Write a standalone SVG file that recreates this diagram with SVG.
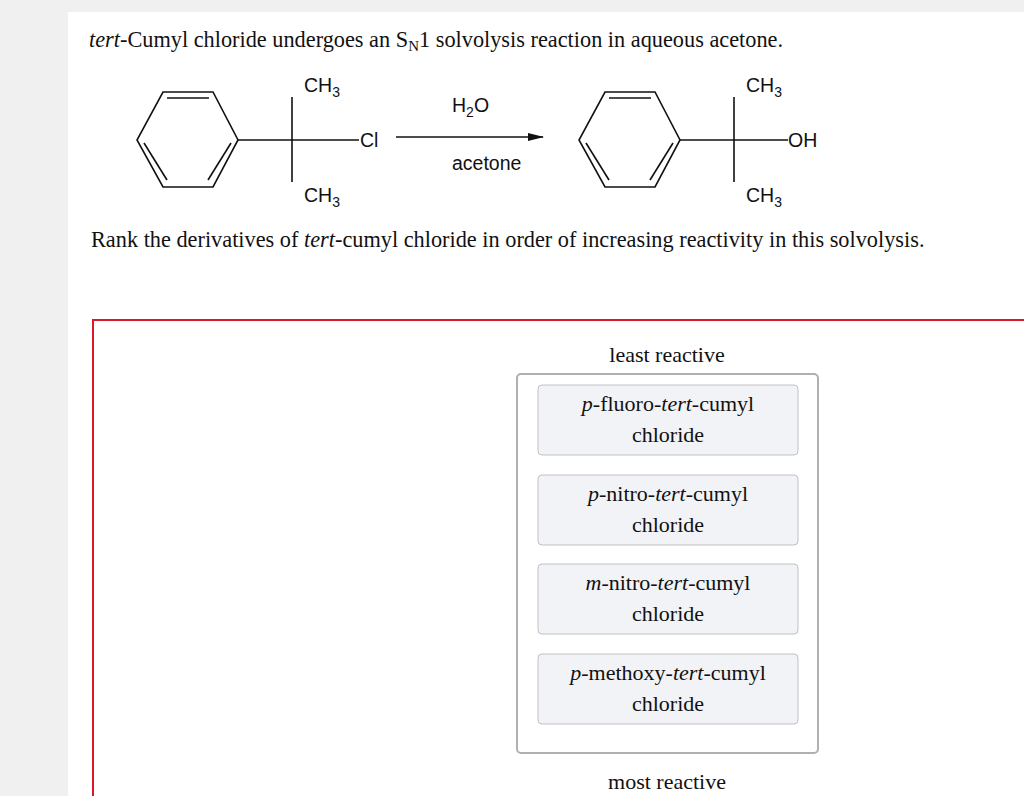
<svg xmlns="http://www.w3.org/2000/svg" width="1024" height="796" viewBox="0 0 1024 796">
<style>
.s{font-family:"Liberation Serif",serif;font-size:22.3px;fill:#111}
.a{font-family:"Liberation Sans",sans-serif;font-size:19.5px;fill:#111}
.b{stroke:#111;stroke-width:1.6;fill:none}
.card{fill:#f2f3f6;stroke:#bfc2c6;stroke-width:1}
.c{font-family:"Liberation Serif",serif;font-size:22px;fill:#111;text-anchor:middle}
</style>
<defs>
<g id="mol">
<polygon class="b" points="163,92 213,92 238,140 213,187 163,187 137,140"/>
<line class="b" x1="167" y1="98" x2="209" y2="98"/>
<line class="b" x1="144" y1="143" x2="167" y2="180"/>
<line class="b" x1="231" y1="143" x2="208" y2="180"/>
<line class="b" x1="238" y1="140" x2="292" y2="140"/>
<line class="b" x1="292" y1="97" x2="292" y2="182"/>
<text class="a" x="304" y="92">CH<tspan font-size="14" dy="5">3</tspan></text>
<text class="a" x="304" y="202">CH<tspan font-size="14" dy="5">3</tspan></text>
</g>
<marker id="ar" markerWidth="16" markerHeight="8" refX="15" refY="4" orient="auto" markerUnits="userSpaceOnUse"><path d="M0,0 L16,4 L0,8 Z" fill="#111"/></marker>
</defs>
<rect width="1024" height="796" fill="#f0f0f0"/>
<rect x="68" y="12" width="956" height="784" fill="#fff"/>
<text class="s" x="89" y="47"><tspan font-style="italic">tert</tspan>-Cumyl chloride undergoes an S<tspan font-size="15" dy="4">N</tspan><tspan dy="-4">1 solvolysis reaction in aqueous acetone.</tspan></text>
<g id="reactant"><use href="#mol"/><line class="b" x1="292" y1="140" x2="359" y2="140"/><text class="a" x="360" y="147">Cl</text></g>
<g id="product"><use href="#mol" transform="translate(442,0)"/><line class="b" x1="734" y1="140" x2="788" y2="140"/><text class="a" x="788" y="147">OH</text></g>
<g id="connectors"><line x1="396" y1="137" x2="543" y2="137" stroke="#111" stroke-width="1.5" marker-end="url(#ar)"/></g>
<text class="a" x="452" y="112">H<tspan font-size="14" dy="5">2</tspan><tspan dy="-5">O</tspan></text>
<text class="a" x="452" y="170">acetone</text>
<text class="s" x="91" y="247">Rank the derivatives of <tspan font-style="italic">tert</tspan>-cumyl chloride in order of increasing reactivity in this solvolysis.</text>
<path d="M93,796 V320 H1024" fill="none" stroke="#d9192b" stroke-width="2"/>
<text class="c" x="667" y="362">least reactive</text>
<rect x="517" y="374" width="301" height="379" rx="4" fill="#fff" stroke="#b0b0b0" stroke-width="2"/>
<g id="n1"><rect class="card" x="538" y="385" width="260" height="70" rx="4"/><text class="c" x="668" y="411"><tspan font-style="italic">p</tspan>-fluoro-<tspan font-style="italic">tert</tspan>-cumyl</text><text class="c" x="668" y="442">chloride</text></g>
<g id="n2"><rect class="card" x="538" y="475" width="260" height="70" rx="4"/><text class="c" x="668" y="501"><tspan font-style="italic">p</tspan>-nitro-<tspan font-style="italic">tert</tspan>-cumyl</text><text class="c" x="668" y="532">chloride</text></g>
<g id="n3"><rect class="card" x="538" y="564" width="260" height="70" rx="4"/><text class="c" x="668" y="590"><tspan font-style="italic">m</tspan>-nitro-<tspan font-style="italic">tert</tspan>-cumyl</text><text class="c" x="668" y="621">chloride</text></g>
<g id="n4"><rect class="card" x="538" y="654" width="260" height="70" rx="4"/><text class="c" x="668" y="680"><tspan font-style="italic">p</tspan>-methoxy-<tspan font-style="italic">tert</tspan>-cumyl</text><text class="c" x="668" y="711">chloride</text></g>
<text class="c" x="667" y="789">most reactive</text>
</svg>
